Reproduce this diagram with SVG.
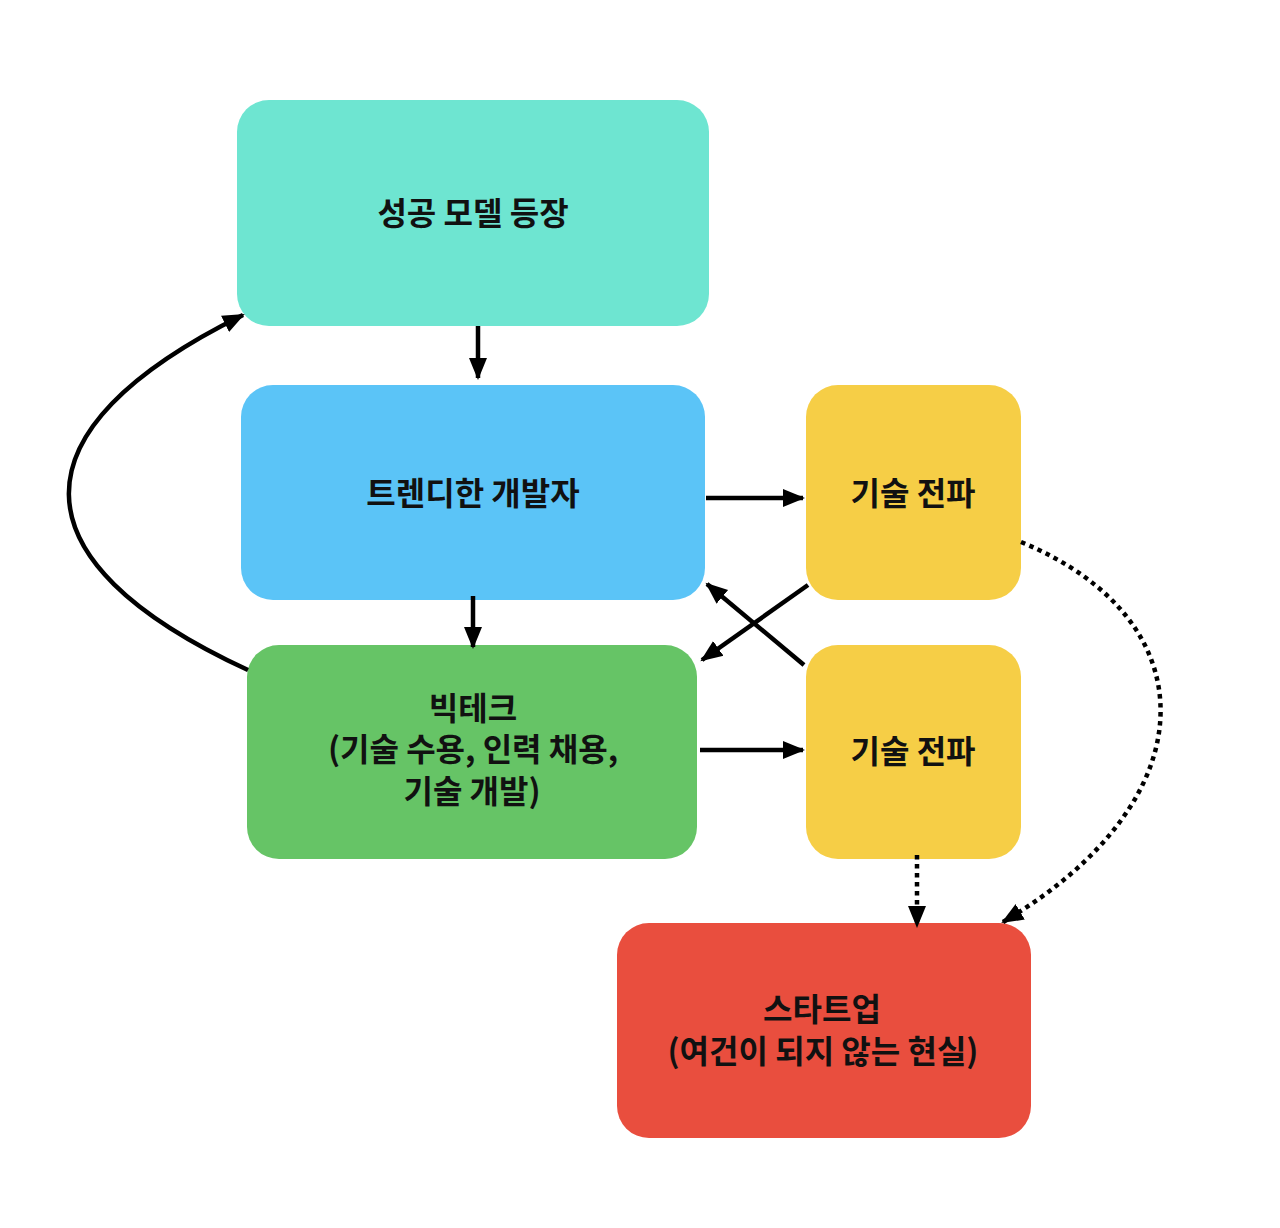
<svg xmlns="http://www.w3.org/2000/svg" width="1280" height="1228" viewBox="0 0 1280 1228">
<style>
.lbl{font-family:"Noto Sans CJK KR","Noto Sans",sans-serif;font-size:32px;font-weight:bold;fill:#111;text-anchor:middle;dominant-baseline:central}
.c{fill:none;stroke:#000;stroke-width:4.5}
.d{fill:none;stroke:#000;stroke-width:4.5;stroke-dasharray:4.5 4.5}
</style>
<defs>
<marker id="ah" markerUnits="userSpaceOnUse" markerWidth="24" markerHeight="22" refX="20" refY="11" orient="auto">
<path d="M0,2 L22,11 L0,20 Z" fill="#000"/>
</marker>
</defs>
<rect width="1280" height="1228" fill="#fff"/>
<g id="n1">
<rect x="237" y="100" width="472" height="226" rx="32" fill="#6EE5D1"/>
<text class="lbl" x="473" y="211">성공 모델 등장</text>
</g>
<g id="n2">
<rect x="241" y="385" width="464" height="215" rx="32" fill="#5BC4F7"/>
<text class="lbl" x="473" y="491">트렌디한 개발자</text>
</g>
<g id="n3">
<rect x="247" y="645" width="450" height="214" rx="32" fill="#66C466"/>
<text class="lbl" x="473" y="706">빅테크</text>
<text class="lbl" x="473" y="747">(기술 수용, 인력 채용,</text>
<text class="lbl" x="472" y="789">기술 개발)</text>
</g>
<g id="n4">
<rect x="806" y="385" width="215" height="215" rx="32" fill="#F6CE46"/>
<text class="lbl" x="913" y="491">기술 전파</text>
</g>
<g id="n5">
<rect x="806" y="645" width="215" height="214" rx="32" fill="#F6CE46"/>
<text class="lbl" x="913" y="749">기술 전파</text>
</g>
<g id="n6">
<rect x="617" y="923" width="414" height="215" rx="32" fill="#E94E3E"/>
<text class="lbl" x="822" y="1007">스타트업</text>
<text class="lbl" x="823" y="1049">(여건이 되지 않는 현실)</text>
</g>
<g id="connectors">
<line class="c" x1="478" y1="326" x2="478" y2="378" marker-end="url(#ah)"/>
<line class="c" x1="473" y1="596" x2="473" y2="647" marker-end="url(#ah)"/>
<line class="c" x1="706" y1="498" x2="803" y2="498" marker-end="url(#ah)"/>
<line class="c" x1="700" y1="750" x2="803" y2="750" marker-end="url(#ah)"/>
<line class="c" x1="808" y1="585" x2="702" y2="660" marker-end="url(#ah)"/>
<line class="c" x1="804" y1="665" x2="707" y2="584" marker-end="url(#ah)"/>
<path class="c" d="M248,670 C10,560 10,430 243,315" marker-end="url(#ah)"/>
<path class="d" d="M1021,542 C1210,620 1210,800 1003,922" marker-end="url(#ah)"/>
<line class="d" x1="917" y1="855" x2="917" y2="926" marker-end="url(#ah)"/>
</g>
</svg>
